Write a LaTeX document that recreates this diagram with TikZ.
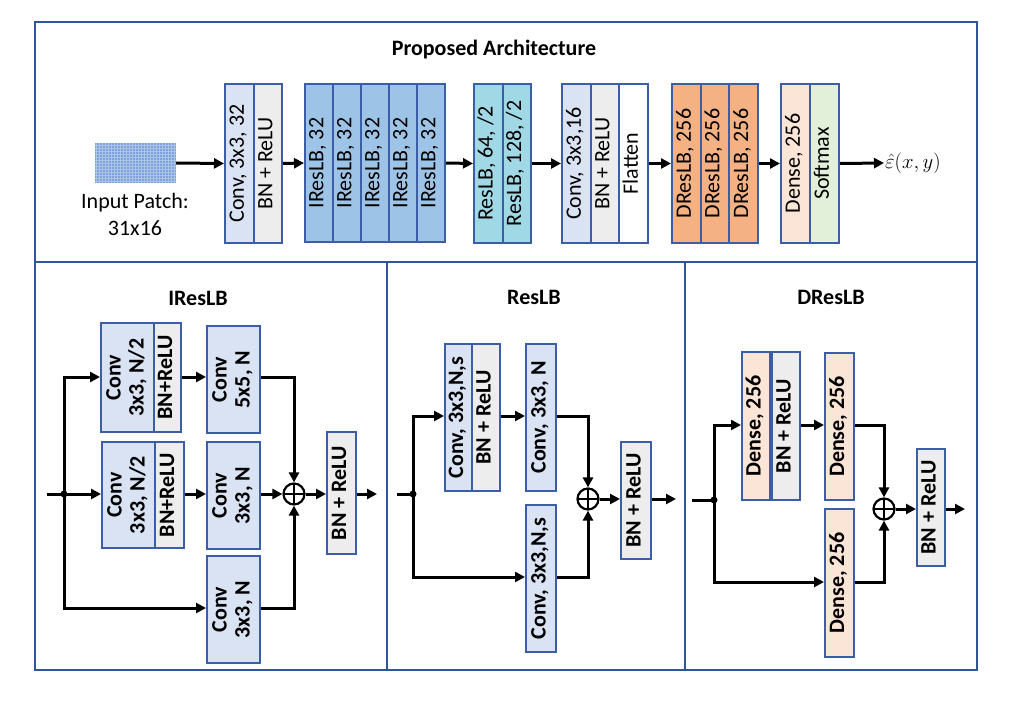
\documentclass[tikz,border=0pt]{standalone}
\usepackage{fontspec}
\setmainfont{Carlito}
\usetikzlibrary{arrows.meta,calc}
\definecolor{frame}{HTML}{2F5597}
\definecolor{bord}{HTML}{3B5EA6}
\definecolor{convblue}{HTML}{DAE3F3}
\definecolor{bngray}{HTML}{EDEDED}
\definecolor{iresblue}{HTML}{9DC3E6}
\definecolor{rescyan}{HTML}{A1D8E6}
\definecolor{dresor}{HTML}{F4B183}
\definecolor{densec}{HTML}{FBE5D6}
\definecolor{softc}{HTML}{E2F0D9}
\definecolor{patchc}{HTML}{7DA3DA}
\newcommand{\mybox}[8][]{%
  \node[box,fill=#7,minimum width={(#5-#3)*1pt},minimum height={(#6-#4)*1pt},#1]
    (#2) at ({(#3+#5)/2},{(#4+#6)/2}) {\rotatebox{90}{\begin{tabular}{@{}c@{}}#8\end{tabular}}};}
\begin{document}
\begin{tikzpicture}[x=1pt,y=-1pt,
  box/.style={draw=bord,line width=2pt,inner sep=0pt,font=\fontsize{22}{22}\selectfont},
  bbox/.style={font=\fontsize{22}{23}\selectfont\bfseries},
  arr/.style={line width=3pt,-{Triangle[length=10pt,width=10pt]}},
  ln/.style={line width=3pt},
  sum/.style={circle,draw,line width=2.2pt,minimum size=21pt,inner sep=0pt,
    path picture={\draw[line width=1.6pt] (path picture bounding box.north) -- (path picture bounding box.south)
      (path picture bounding box.west) -- (path picture bounding box.east);}},
  ttl/.style={font=\fontsize{22}{24}\selectfont\bfseries}]
\useasboundingbox (0,0) rectangle (1024,703);
% frames
\draw[frame,line width=2.4pt] (35,22) rectangle (977,670);
\draw[frame,line width=2.4pt] (35,262) -- (977,262) (387,262) -- (387,670) (685,262) -- (685,670);
\node[ttl] (t0) at (494,50) {Proposed Architecture};
% input patch
\node[fill=patchc,minimum width=81pt,minimum height=40pt,inner sep=0pt,
  path picture={\draw[white!35!patchc,line width=0.3pt,step=3pt] (path picture bounding box.south west) grid (path picture bounding box.north east);
    \draw[frame,line width=0.6pt] (135.5,143) -- (135.5,178);
    \draw[frame,line width=0.5pt] (97,180) -- (132,180);
    \fill[red!20] (132,178) rectangle (176,183);
    \draw[red,line width=0.6pt] (132,177) rectangle (137,183);}] (patch) at (135.5,163) {};
\node[font=\fontsize{22}{24}\selectfont] (pt1) at (135,203) {Input Patch:};
\node[font=\fontsize{22}{24}\selectfont] (pt2) at (135,228) {31x16};
% top row
\mybox{c1}{225}{84}{254}{243}{convblue}{Conv, 3x3, 32}
\mybox{b1}{254}{84}{282}{243}{bngray}{BN + ReLU}
\mybox{ir1}{305}{84}{333}{242}{iresblue}{IResLB, 32}
\mybox{ir2}{333}{84}{361}{242}{iresblue}{IResLB, 32}
\mybox{ir3}{361}{84}{389}{242}{iresblue}{IResLB, 32}
\mybox{ir4}{389}{84}{417}{242}{iresblue}{IResLB, 32}
\mybox{ir5}{417}{84}{445}{242}{iresblue}{IResLB, 32}
\mybox{rs1}{474}{84}{502.5}{243}{rescyan}{ResLB, 64, /2}
\mybox{rs2}{502.5}{84}{531}{243}{rescyan}{ResLB, 128, /2}
\mybox{c2}{562}{84}{591}{243}{convblue}{Conv, 3x3,16}
\mybox{b2}{591}{84}{619}{243}{bngray}{BN + ReLU}
\mybox{fl}{619}{84}{648}{243}{white}{Flatten}
\mybox{dr1}{672}{84}{700.7}{243}{dresor}{DResLB, 256}
\mybox{dr2}{700.7}{84}{729.3}{243}{dresor}{DResLB, 256}
\mybox{dr3}{729.3}{84}{758}{243}{dresor}{DResLB, 256}
\mybox{de}{781}{84}{810}{243}{densec}{Dense, 256}
\mybox{sm}{810}{84}{839}{243}{softc}{Softmax}
\node[anchor=west,inner sep=1pt,font=\fontsize{21}{22}\selectfont] (eps) at (884,163) {$\hat{\varepsilon}(x,y)$};
\draw[arr] (patch.east) -- (c1.west);
\draw[arr] (b1.east) -- (ir1.west);
\draw[arr] (ir5.east) -- (rs1.west);
\draw[arr] (rs2.east) -- (c2.west);
\draw[arr] (fl.east) -- (dr1.west);
\draw[arr] (dr3.east) -- (de.west);
\draw[arr] (sm.east) -- (eps.west);
% ===== IResLB
\node[ttl] (t1) at (198,298) {IResLB};
\mybox[bbox]{ia}{101}{323}{154}{432}{convblue}{Conv\\3x3, N/2}
\mybox[bbox]{ib}{154}{323}{181}{432}{bngray}{BN+ReLU}
\mybox[bbox]{ic}{207}{326}{260}{433}{convblue}{Conv\\5x5, N}
\mybox[bbox]{id}{102}{442}{155}{548}{convblue}{Conv\\3x3, N/2}
\mybox[bbox]{ie}{155}{442}{184}{548}{bngray}{BN+ReLU}
\mybox[bbox]{if}{207}{442}{260}{549}{convblue}{Conv\\3x3, N}
\mybox[bbox]{ig}{207}{556}{260}{663}{convblue}{Conv\\3x3, N}
\mybox[bbox]{ih}{327}{432}{356}{554}{bngray}{BN + ReLU}
\node[sum] (s1) at (294,494) {};
\coordinate (in1) at (47,494);
\coordinate (j1) at (64,494);
\coordinate (o1) at (377,494);
\draw[arr] (in1) -- (id.west|-in1);
\draw[arr] (j1) |- (ia.west|-0,377);
\draw[arr] (j1) |- (ig.west|-0,608);
\fill (j1) circle (3.5);
\draw[arr] (ib.east|-0,377) -- (ic.west|-0,377);
\draw[arr] (ie.east|-s1) -- (if.west|-s1);
\draw[arr] (ic.east|-0,377) -| (s1.north);
\draw[arr] (if.east|-s1) -- (s1.west);
\draw[arr] (ig.east|-0,608) -| (s1.south);
\draw[arr] (s1.east) -- (ih.west|-s1);
\draw[arr] (ih.east|-s1) -- (o1);
% ===== ResLB
\node[ttl] (t2) at (534,297) {ResLB};
\mybox[bbox]{ra}{445}{344}{472}{491}{convblue}{Conv, 3x3,N,s}
\mybox[bbox]{rb}{472}{344}{500}{491}{bngray}{BN + ReLU}
\mybox[bbox]{rc}{526}{344}{556}{491}{convblue}{Conv, 3x3, N}
\mybox[bbox]{rd}{526}{505}{556}{652}{convblue}{Conv, 3x3,N,s}
\mybox[bbox]{re}{621}{442}{651}{559}{bngray}{BN + ReLU}
\node[sum] (s2) at (588,499) {};
\coordinate (in2) at (397,494);
\coordinate (j2) at (413,494);
\coordinate (o2) at (676,499);
\draw[ln] (in2) -- (j2);
\draw[arr] (j2) |- (ra.west|-0,416);
\draw[arr] (j2) |- (rd.west|-0,577);
\fill (j2) circle (3.5);
\draw[arr] (rb.east|-0,416) -- (rc.west|-0,416);
\draw[arr] (rc.east|-0,416) -| (s2.north);
\draw[arr] (rd.east|-0,577) -| (s2.south);
\draw[arr] (s2.east) -- (re.west|-s2);
\draw[arr] (re.east|-s2) -- (o2);
% ===== DResLB
\node[ttl] (t3) at (831,297) {DResLB};
\mybox[bbox]{da}{742}{352}{770}{500}{densec}{Dense, 256}
\mybox[bbox]{db}{772}{352}{800}{500}{bngray}{BN + ReLU}
\mybox[bbox]{dc}{825}{353}{854}{500}{densec}{Dense, 256}
\mybox[bbox]{dd}{825}{509}{854}{657}{densec}{Dense, 256}
\mybox[bbox]{dg}{917}{449}{945}{566}{bngray}{BN + ReLU}
\node[sum] (s3) at (884,509) {};
\coordinate (in3) at (692,500);
\coordinate (j3) at (714,500);
\coordinate (o3) at (965,509);
\draw[ln] (in3) -- (j3);
\draw[arr] (j3) |- (da.west|-0,425);
\draw[arr] (j3) |- (dd.west|-0,582);
\fill (j3) circle (3.5);
\draw[arr] (db.east|-0,425) -- (dc.west|-0,425);
\draw[arr] (dc.east|-0,425) -| (s3.north);
\draw[arr] (dd.east|-0,582) -| (s3.south);
\draw[arr] (s3.east) -- (dg.west|-s3);
\draw[arr] (dg.east|-s3) -- (o3);
\end{tikzpicture}
\end{document}
